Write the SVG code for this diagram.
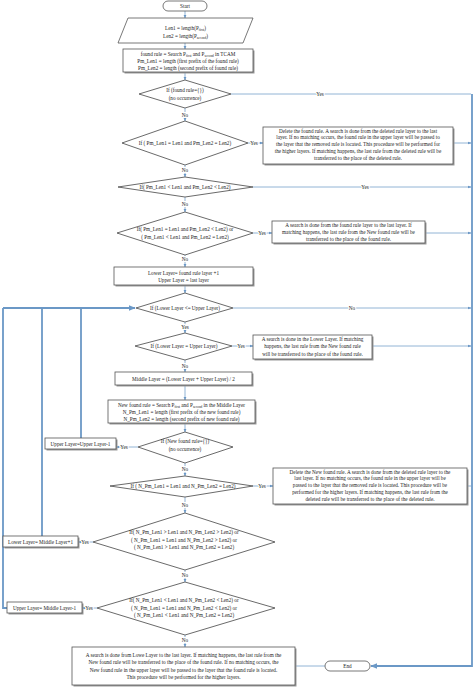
<svg xmlns="http://www.w3.org/2000/svg" width="474" height="687" viewBox="0 0 474 687">
<defs>
<style>
text{font-family:"Liberation Serif","Times New Roman",serif;font-size:5.2px;fill:#222;text-anchor:middle}
.sub{font-size:3.4px}
.box{fill:#fff;stroke:#555;stroke-width:0.8}
.shd{fill:#9a9a9a}
.dia{fill:#fff;stroke:#444;stroke-width:0.8}
.c{fill:none;stroke:#86abd0;stroke-width:0.9}
.cb{fill:none;stroke:#6b98c6;stroke-width:1.8}
.lbl{paint-order:stroke;stroke:#fff;stroke-width:2.2px;stroke-linejoin:round}
</style>
<marker id="ah" viewBox="0 0 10 10" refX="9" refY="5" markerWidth="4" markerHeight="4" orient="auto"><path d="M0,1 L10,5 L0,9 z" fill="#6b98c6"/></marker>
</defs>
<rect width="474" height="687" fill="#fff"/>

<g id="connectors">
<path class="c" d="M185,11 V18" marker-end="url(#ah)"/>
<path class="c" d="M185,43 V49" marker-end="url(#ah)"/>
<path class="c" d="M185,72 V80" marker-end="url(#ah)"/>
<path class="c" d="M231,94 H471"/>
<path class="c" d="M185,108 V121" marker-end="url(#ah)"/>
<path class="c" d="M248,143 H263" marker-end="url(#ah)"/>
<path class="c" d="M453,143 H471" marker-end="url(#ah)"/>
<path class="c" d="M185,165 V177" marker-end="url(#ah)"/>
<path class="c" d="M253,187 H471" marker-end="url(#ah)"/>
<path class="c" d="M185,197 V212" marker-end="url(#ah)"/>
<path class="c" d="M253,233 H272" marker-end="url(#ah)"/>
<path class="c" d="M425,233 H471" marker-end="url(#ah)"/>
<path class="c" d="M185,255 V267" marker-end="url(#ah)"/>
<path class="c" d="M185,285 V293" marker-end="url(#ah)"/>
<path class="c" d="M233,308 H471" marker-end="url(#ah)"/>
<path class="cb" d="M3,308 H135" marker-end="url(#ah)"/>
<path class="cb" d="M42,308 V536"/>
<path class="cb" d="M81,308 V438"/>
<path class="cb" d="M7,608 H3 V308"/>
<path class="c" d="M185,322 V333" marker-end="url(#ah)"/>
<path class="c" d="M232,346 H253" marker-end="url(#ah)"/>
<path class="c" d="M372,346 H471" marker-end="url(#ah)"/>
<path class="c" d="M185,360 V372" marker-end="url(#ah)"/>
<path class="c" d="M185,385 V400" marker-end="url(#ah)"/>
<path class="c" d="M185,423 V432" marker-end="url(#ah)"/>
<path class="c" d="M138,447 H116" marker-end="url(#ah)"/>
<path class="c" d="M185,463 V476" marker-end="url(#ah)"/>
<path class="c" d="M253,486 H273" marker-end="url(#ah)"/>
<path class="c" d="M467,486 H471" />
<path class="c" d="M185,497 V513" marker-end="url(#ah)"/>
<path class="c" d="M93,542 H78" marker-end="url(#ah)"/>
<path class="c" d="M185,570 V582" marker-end="url(#ah)"/>
<path class="c" d="M97,608 H82" marker-end="url(#ah)"/>
<path class="c" d="M185,635 V647" marker-end="url(#ah)"/>
<path class="c" d="M295,666 H325"/>
<path class="cb" d="M472,94 V666 H371" marker-end="url(#ah)"/>
<text class="lbl" x="320" y="96">Yes</text>
<text class="lbl" x="185" y="117">No</text>
<text class="lbl" x="254" y="145">Yes</text>
<text class="lbl" x="185" y="172">No</text>
<text class="lbl" x="365" y="189">Yes</text>
<text class="lbl" x="185" y="206">No</text>
<text class="lbl" x="262" y="235">Yes</text>
<text class="lbl" x="185" y="261">No</text>
<text class="lbl" x="352" y="310">No</text>
<text class="lbl" x="185" y="329">Yes</text>
<text class="lbl" x="241" y="348">Yes</text>
<text class="lbl" x="185" y="368">No</text>
<text class="lbl" x="124" y="449">Yes</text>
<text class="lbl" x="185" y="471">No</text>
<text class="lbl" x="262" y="488">Yes</text>
<text class="lbl" x="185" y="507">No</text>
<text class="lbl" x="85" y="544">Yes</text>
<text class="lbl" x="185" y="577">No</text>
<text class="lbl" x="89" y="610">Yes</text>
<text class="lbl" x="185" y="642">No</text>
</g>

<g id="start">
<rect class="box" x="163" y="1" width="44" height="10" rx="5"/>
<text x="185" y="8">Start</text>
</g>

<g id="input">
<polygon class="box" points="128,18 253,18 243,43 118,43"/>
<text x="185.5" y="30">Len1 = length(P<tspan class="sub" dy="1">first</tspan><tspan dy="-1">)</tspan></text>
<text x="185.5" y="38">Len2 = length(P<tspan class="sub" dy="1">second</tspan><tspan dy="-1">)</tspan></text>
</g>

<g id="search">
<rect class="shd" x="124.5" y="50.5" width="130" height="23"/>
<rect class="box" x="123" y="49" width="130" height="23"/>
<text x="188" y="56">found rule = Search P<tspan class="sub" dy="1">first</tspan><tspan dy="-1"> and P</tspan><tspan class="sub" dy="1">second</tspan><tspan dy="-1"> in TCAM</tspan></text>
<text x="188" y="63">Pm_Len1 = length (first prefix of the found rule)</text>
<text x="188" y="70">Pm_Len2 = length (second prefix of  found rule)</text>
</g>

<g id="d1">
<polygon class="dia" points="185,80 231,94 185,108 139,94"/>
<text x="185" y="92">If (found rule={})</text>
<text x="185" y="100">(no occurrence)</text>
</g>

<g id="d2">
<polygon class="dia" points="185,121 248,143 185,165 122,143"/>
<text x="185" y="145">If ( Pm_Len1 = Len1 and Pm_Len2 = Len2)</text>
</g>

<g id="b2">
<rect class="shd" x="264.5" y="128.5" width="190" height="37"/>
<rect class="box" x="263" y="127" width="190" height="37"/>
<text x="358" y="132.5">Delete the found rule. A search is done from the deleted rule layer to the last</text>
<text x="358" y="139.4">layer. If no matching occurs, the found rule in the upper layer will be passed to</text>
<text x="358" y="146.3">the layer that the removed rule is located. This procedure will be performed for</text>
<text x="358" y="153.2">the higher layers. If matching happens, the last rule from the deleted rule will be</text>
<text x="358" y="160.1">transferred to the place of the deleted rule.</text>
</g>

<g id="d3">
<polygon class="dia" points="185,177 253,187 185,197 118,187"/>
<text x="185" y="189">If( Pm_Len1 &lt; Len1 and Pm_Len2 &lt; Len2)</text>
</g>

<g id="d4">
<polygon class="dia" points="185,212 253,233 185,255 117,233"/>
<text x="185" y="231">If( Pm_Len1 = Len1 and Pm_Len2 &lt; Len2) or</text>
<text x="185" y="239">( Pm_Len1 &lt; Len1 and Pm_Len2 = Len2)</text>
</g>

<g id="b4">
<rect class="shd" x="273.5" y="222.5" width="153" height="22"/>
<rect class="box" x="272" y="221" width="153" height="22"/>
<text x="348.5" y="226.5">A search is done from the found rule layer to the last layer. If</text>
<text x="348.5" y="233.5">matching happens, the last rule from the New found rule will be</text>
<text x="348.5" y="240.5">transferred to the place of the found rule.</text>
</g>

<g id="init">
<rect class="shd" x="115.5" y="268.5" width="139" height="18"/>
<rect class="box" x="114" y="267" width="139" height="18"/>
<text x="183.5" y="274.5">Lower Layer= found rule layer +1</text>
<text x="183.5" y="281.5">Upper Layer = last layer</text>
</g>

<g id="d5">
<polygon class="dia" points="185,293 233,308 185,322 136,308"/>
<text x="185" y="310">If (Lower Layer &lt;= Upper Layer)</text>
</g>

<g id="d6">
<polygon class="dia" points="185,333 232,346 185,360 135,346"/>
<text x="184" y="348">If (Lower Layer = Upper Layer)</text>
</g>

<g id="b6">
<rect class="shd" x="254.5" y="336.5" width="119" height="24"/>
<rect class="box" x="253" y="335" width="119" height="24"/>
<text x="312.5" y="340.5">A search is done in the Lower Layer. If matching</text>
<text x="312.5" y="348">happens, the last rule from the New found rule</text>
<text x="312.5" y="355.5">will be transferred to the place of the found rule.</text>
</g>

<g id="middle">
<rect class="shd" x="116.5" y="373.5" width="137" height="13"/>
<rect class="box" x="115" y="372" width="137" height="13"/>
<text x="183.5" y="380.5">Middle Layer = (Lower Layer + Upper Layer) / 2</text>
</g>

<g id="newsearch">
<rect class="shd" x="109.5" y="401.5" width="147" height="23"/>
<rect class="box" x="108" y="400" width="147" height="23"/>
<text x="181.5" y="407">New found rule = Search P<tspan class="sub" dy="1">first</tspan><tspan dy="-1">  and P</tspan><tspan class="sub" dy="1">second</tspan><tspan dy="-1"> in the Middle Layer</tspan></text>
<text x="181.5" y="414">N_Pm_Len1 = length (first prefix of the new found rule)</text>
<text x="181.5" y="421">N_Pm_Len2 = length (second prefix of new found rule)</text>
</g>

<g id="d7">
<polygon class="dia" points="185,432 233,447 185,463 138,447"/>
<text x="185" y="443">If (New found rule={})</text>
<text x="185" y="451">(no occurrence)</text>
</g>

<g id="ulm1">
<rect class="shd" x="46.5" y="439.5" width="71" height="11"/>
<rect class="box" x="45" y="438" width="71" height="11"/>
<text x="80.5" y="445.5">Upper Layer=Upper Layer-1</text>
</g>

<g id="d8">
<polygon class="dia" points="185,476 253,486 185,497 110,486"/>
<text x="183" y="488">If ( N_Pm_Len1 = Len1 and N_Pm_Len2 = Len2)</text>
</g>

<g id="b8">
<rect class="shd" x="274.5" y="469.5" width="194" height="36"/>
<rect class="box" x="273" y="468" width="194" height="36"/>
<text x="370" y="473.5">Delete the New found rule. A search is done from the deleted rule layer to the</text>
<text x="370" y="480.4">last layer. If no matching occurs, the found rule in the upper layer will be</text>
<text x="370" y="487.3">passed to the layer that the removed rule is located. This procedure will be</text>
<text x="370" y="494.2">performed for the higher layers. If matching happens, the last rule from the</text>
<text x="370" y="501.1">deleted rule will be transferred to the place of the deleted rule.</text>
</g>

<g id="d9">
<polygon class="dia" points="185,513 275,542 185,570 93,542"/>
<text x="184" y="534">If( N_Pm_Len1 &gt; Len1 and N_Pm_Len2 &gt; Len2) or</text>
<text x="184" y="541.5">( N_Pm_Len1 = Len1 and N_Pm_Len2 &gt; Len2) or</text>
<text x="184" y="549">( N_Pm_Len1 &gt; Len1 and N_Pm_Len2 = Len2)</text>
</g>

<g id="llp1">
<rect class="shd" x="4.5" y="537.5" width="75" height="11"/>
<rect class="box" x="3" y="536" width="75" height="11"/>
<text x="40.5" y="543.5">Lower Layer= Middle Layer+1</text>
</g>

<g id="d10">
<polygon class="dia" points="185,582 275,608 185,635 97,608"/>
<text x="184" y="602">If( N_Pm_Len1 &lt; Len1 and N_Pm_Len2 &lt; Len2) or</text>
<text x="184" y="609.5">( N_Pm_Len1 = Len1 and N_Pm_Len2 &lt; Len2) or</text>
<text x="184" y="617">( N_Pm_Len1 &lt; Len1 and N_Pm_Len2 = Len2)</text>
</g>

<g id="ulm2">
<rect class="shd" x="8.5" y="603.5" width="75" height="11"/>
<rect class="box" x="7" y="602" width="75" height="11"/>
<text x="44.5" y="609.5">Upper Layer= Middle Layer-1</text>
</g>

<g id="final">
<rect class="shd" x="73.5" y="648.5" width="223" height="38"/>
<rect class="box" x="72" y="647" width="223" height="38"/>
<text x="183.5" y="657">A search is done from Lowe Layer to the last layer. If matching happens, the last rule from the</text>
<text x="183.5" y="664.4">New found rule will be transferred to the place of the found rule. If no matching occurs, the</text>
<text x="183.5" y="671.8">New found rule in the upper layer will be passed to the layer that the found rule is located.</text>
<text x="183.5" y="679.2">This procedure will be performed for the higher layers.</text>
</g>

<g id="end">
<rect class="box" x="325" y="661" width="45" height="10" rx="5"/>
<text x="347.5" y="668">End</text>
</g>
</svg>
